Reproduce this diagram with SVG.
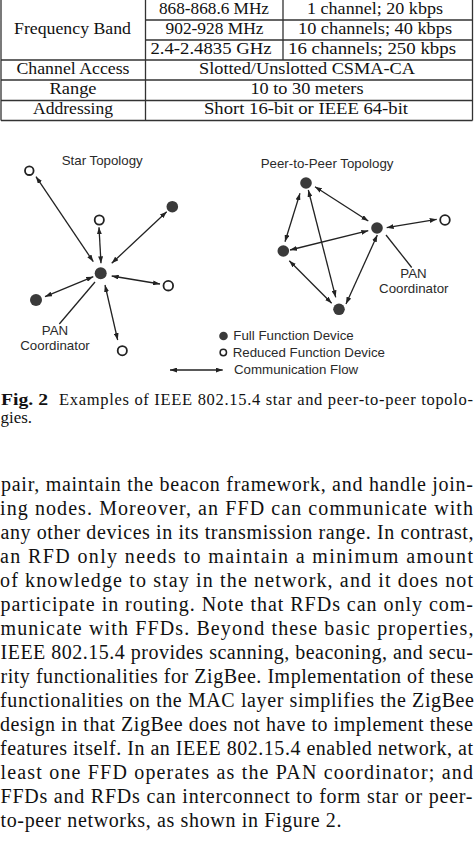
<svg xmlns="http://www.w3.org/2000/svg" width="474" height="841" viewBox="0 0 474 841">
<style>
.tl{stroke:#333;stroke-width:1.3;fill:none}
.tt{font-family:"Liberation Serif","Times New Roman",serif;font-size:16.5px;fill:#111;text-anchor:middle}
.sans{font-family:"Liberation Sans",Arial,sans-serif;font-size:13.3px;fill:#2a2a2a}
.ffd{fill:#3a3a3a}
.rfd{fill:#fff;stroke:#222;stroke-width:1.8}
.ln{stroke:#222;stroke-width:1.3;fill:none;marker-start:url(#ah);marker-end:url(#ah)}
.pl{stroke:#222;stroke-width:1.3;fill:none}
.body{font-family:"Liberation Serif","Times New Roman",serif;font-size:20px;fill:#111}
.cap{font-family:"Liberation Serif","Times New Roman",serif;font-size:16.5px;fill:#111}
</style>
<defs>
<marker id="ah" markerUnits="userSpaceOnUse" markerWidth="7" markerHeight="5" refX="7" refY="2.5" orient="auto-start-reverse">
<path d="M0,0 L7,2.5 L0,5 z" fill="#222"/>
</marker>
</defs>
<rect width="474" height="841" fill="#fff"/>

<g id="table">
<path class="tl" d="M1,0 V120.5 M472.5,0 V120.5 M145.5,0 V120.5 M283,0 V60 M145.5,20 H472.5 M145.5,40 H472.5 M1,60 H472.5 M1,80 H472.5 M1,100.5 H472.5 M1,120.5 H472.5"/>
<text class="tt" x="72.5" y="34" textLength="117" lengthAdjust="spacingAndGlyphs">Frequency Band</text>
<text class="tt" x="214" y="13.5" textLength="110" lengthAdjust="spacingAndGlyphs">868-868.6 MHz</text>
<text class="tt" x="214.5" y="33.5" textLength="98" lengthAdjust="spacingAndGlyphs">902-928 MHz</text>
<text class="tt" x="211" y="53.5" textLength="121" lengthAdjust="spacingAndGlyphs">2.4-2.4835 GHz</text>
<text class="tt" x="375" y="13.5" textLength="136" lengthAdjust="spacingAndGlyphs">1 channel; 20 kbps</text>
<text class="tt" x="375" y="33.5" textLength="154" lengthAdjust="spacingAndGlyphs">10 channels; 40 kbps</text>
<text class="tt" x="372" y="53.5" textLength="168" lengthAdjust="spacingAndGlyphs">16 channels; 250 kbps</text>
<text class="tt" x="73" y="74" textLength="113" lengthAdjust="spacingAndGlyphs">Channel Access</text>
<text class="tt" x="307" y="74" textLength="216" lengthAdjust="spacingAndGlyphs">Slotted/Unslotted CSMA-CA</text>
<text class="tt" x="73" y="94.3" textLength="47" lengthAdjust="spacingAndGlyphs">Range</text>
<text class="tt" x="307" y="94.3" textLength="113" lengthAdjust="spacingAndGlyphs">10 to 30 meters</text>
<text class="tt" x="73" y="114.3" textLength="80" lengthAdjust="spacingAndGlyphs">Addressing</text>
<text class="tt" x="306" y="114.3" textLength="204" lengthAdjust="spacingAndGlyphs">Short 16-bit or IEEE 64-bit</text>
</g>

<g id="connectors">
<line class="ln" x1="36" y1="176.7" x2="93.3" y2="261.7"/>
<line class="ln" x1="99" y1="227.3" x2="101" y2="263.3"/>
<line class="ln" x1="166.7" y1="211.7" x2="111.7" y2="263.3"/>
<line class="ln" x1="160" y1="284" x2="111.7" y2="276"/>
<line class="ln" x1="45" y1="296.7" x2="93.3" y2="276.7"/>
<line class="ln" x1="117.7" y1="340" x2="105" y2="285"/>
<line class="pl" x1="95" y1="282" x2="59.3" y2="324"/>
<line class="ln" x1="315" y1="186.7" x2="368.3" y2="221"/>
<line class="ln" x1="300" y1="193.3" x2="285" y2="241.7"/>
<line class="ln" x1="308.3" y1="190" x2="335.7" y2="297.3"/>
<line class="ln" x1="290" y1="250" x2="368.3" y2="230.7"/>
<line class="ln" x1="289.3" y1="260.7" x2="331.7" y2="303.3"/>
<line class="ln" x1="377.3" y1="235" x2="346" y2="304"/>
<line class="ln" x1="386.7" y1="227.7" x2="436.7" y2="219.3"/>
<line class="pl" x1="386" y1="235" x2="411.7" y2="267.5"/>
<line class="ln" x1="170" y1="370" x2="222.7" y2="370" style="stroke-width:1.6"/>
</g>

<g id="star">
<text class="sans" x="61.7" y="165">Star Topology</text>
<circle id="s-tl" class="rfd" cx="29.3" cy="170.7" r="4.3"/>
<circle id="s-tm" class="rfd" cx="99.3" cy="220" r="4.6"/>
<circle id="s-tr" class="ffd" cx="172.3" cy="206.7" r="5.8"/>
<circle id="s-center" class="ffd" cx="100.7" cy="273.3" r="6"/>
<circle id="s-r" class="rfd" cx="168.3" cy="285.7" r="4.8"/>
<circle id="s-l" class="ffd" cx="36" cy="300" r="6"/>
<circle id="s-b" class="rfd" cx="122.3" cy="350.7" r="4.6"/>
<text class="sans" x="55" y="334.5" text-anchor="middle">PAN</text>
<text class="sans" x="55" y="349.5" text-anchor="middle">Coordinator</text>
</g>

<g id="p2p">
<text class="sans" x="260.7" y="168.3">Peer-to-Peer Topology</text>
<circle id="p-a" class="ffd" cx="306" cy="183" r="5.8"/>
<circle id="p-b" class="ffd" cx="377" cy="228" r="5.8"/>
<circle id="p-c" class="rfd" cx="445" cy="220" r="4.8"/>
<circle id="p-d" class="ffd" cx="283.3" cy="251" r="5.8"/>
<circle id="p-e" class="ffd" cx="339" cy="309.3" r="5.8"/>
<text class="sans" x="413.5" y="278" text-anchor="middle">PAN</text>
<text class="sans" x="413.8" y="293.3" text-anchor="middle">Coordinator</text>
</g>

<g id="legend">
<circle class="ffd" cx="223.5" cy="336" r="4.3"/>
<text class="sans" x="233.3" y="340">Full Function Device</text>
<circle class="rfd" cx="223.3" cy="352.5" r="3.2" style="stroke-width:1.5"/>
<text class="sans" x="232.7" y="357.3">Reduced Function Device</text>
<text class="sans" x="234" y="374.3">Communication Flow</text>
</g>

<g id="caption">
<text class="cap" x="1" y="405" font-weight="bold" textLength="47" lengthAdjust="spacingAndGlyphs">Fig. 2</text>
<text class="cap" x="59" y="405" textLength="414" lengthAdjust="spacing">Examples of IEEE 802.15.4 star and peer-to-peer topolo-</text>
<text class="cap" x="0.5" y="423.3" textLength="31.5" lengthAdjust="spacingAndGlyphs">gies.</text>
</g>

<g id="body">
<text class="body" x="1" y="491" textLength="472" lengthAdjust="spacing">pair, maintain the beacon framework, and handle join-</text>
<text class="body" x="0" y="515" textLength="473" lengthAdjust="spacing">ing nodes. Moreover, an FFD can communicate with</text>
<text class="body" x="0.5" y="539" textLength="473" lengthAdjust="spacing">any other devices in its transmission range. In contrast,</text>
<text class="body" x="0" y="563" textLength="473" lengthAdjust="spacing">an RFD only needs to maintain a minimum amount</text>
<text class="body" x="0" y="587" textLength="473" lengthAdjust="spacing">of knowledge to stay in the network, and it does not</text>
<text class="body" x="0.5" y="611" textLength="472.5" lengthAdjust="spacing">participate in routing. Note that RFDs can only com-</text>
<text class="body" x="0.5" y="635" textLength="473" lengthAdjust="spacing">municate with FFDs. Beyond these basic properties,</text>
<text class="body" x="0.5" y="659" textLength="472.5" lengthAdjust="spacing">IEEE 802.15.4 provides scanning, beaconing, and secu-</text>
<text class="body" x="0.5" y="683" textLength="473" lengthAdjust="spacing">rity functionalities for ZigBee. Implementation of these</text>
<text class="body" x="0" y="707" textLength="474" lengthAdjust="spacing">functionalities on the MAC layer simplifies the ZigBee</text>
<text class="body" x="0" y="731" textLength="473" lengthAdjust="spacing">design in that ZigBee does not have to implement these</text>
<text class="body" x="0" y="755" textLength="473" lengthAdjust="spacing">features itself. In an IEEE 802.15.4 enabled network, at</text>
<text class="body" x="0.5" y="779" textLength="472.5" lengthAdjust="spacing">least one FFD operates as the PAN coordinator; and</text>
<text class="body" x="0.5" y="803" textLength="472" lengthAdjust="spacing">FFDs and RFDs can interconnect to form star or peer-</text>
<text class="body" x="0.5" y="827" textLength="341" lengthAdjust="spacing">to-peer networks, as shown in Figure 2.</text>
</g>
</svg>
